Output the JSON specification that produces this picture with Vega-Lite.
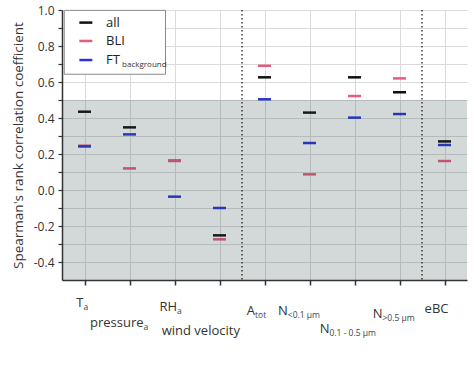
{
  "$schema": "https://vega.github.io/schema/vega-lite/v6.json",
  "width": 405,
  "height": 270,
  "autosize": "none",
  "padding": {"left": 62, "top": 10, "right": 7, "bottom": 87},
  "background": "white",
  "config": {
    "view": {"stroke": null},
    "font": "Open Sans",
    "axis": {"labelFont": "Open Sans", "titleFont": "Open Sans"},
    "axisY": {"labelOverlap": false, "labelFlush": false, "tickCount": 15}
  },
  "datasets": {
    "vals": [
      {"cat": "T_a", "idx": 1, "group": "all", "value": 0.435},
      {"cat": "T_a", "idx": 1, "group": "BLI", "value": 0.246},
      {"cat": "T_a", "idx": 1, "group": "FT", "value": 0.242},
      {"cat": "pressure_a", "idx": 2, "group": "all", "value": 0.348},
      {"cat": "pressure_a", "idx": 2, "group": "BLI", "value": 0.12},
      {"cat": "pressure_a", "idx": 2, "group": "FT", "value": 0.309},
      {"cat": "RH_a", "idx": 3, "group": "all", "value": 0.162},
      {"cat": "RH_a", "idx": 3, "group": "BLI", "value": 0.162},
      {"cat": "RH_a", "idx": 3, "group": "FT", "value": -0.037},
      {"cat": "wind velocity", "idx": 4, "group": "all", "value": -0.252},
      {"cat": "wind velocity", "idx": 4, "group": "BLI", "value": -0.274},
      {"cat": "wind velocity", "idx": 4, "group": "FT", "value": -0.1},
      {"cat": "A_tot", "idx": 5, "group": "all", "value": 0.626},
      {"cat": "A_tot", "idx": 5, "group": "BLI", "value": 0.69},
      {"cat": "A_tot", "idx": 5, "group": "FT", "value": 0.504},
      {"cat": "N<0.1", "idx": 6, "group": "all", "value": 0.43},
      {"cat": "N<0.1", "idx": 6, "group": "BLI", "value": 0.087},
      {"cat": "N<0.1", "idx": 6, "group": "FT", "value": 0.261},
      {"cat": "N0.1-0.5", "idx": 7, "group": "all", "value": 0.626},
      {"cat": "N0.1-0.5", "idx": 7, "group": "BLI", "value": 0.522},
      {"cat": "N0.1-0.5", "idx": 7, "group": "FT", "value": 0.402},
      {"cat": "N>0.5", "idx": 8, "group": "all", "value": 0.543},
      {"cat": "N>0.5", "idx": 8, "group": "BLI", "value": 0.62},
      {"cat": "N>0.5", "idx": 8, "group": "FT", "value": 0.422},
      {"cat": "eBC", "idx": 9, "group": "all", "value": 0.27},
      {"cat": "eBC", "idx": 9, "group": "BLI", "value": 0.161},
      {"cat": "eBC", "idx": 9, "group": "FT", "value": 0.25}
    ],
    "labels": [
      {"idx": 1, "main": "T", "sub": "a"},
      {"idx": 2, "main": "pressure", "sub": "a"},
      {"idx": 3, "main": "RH", "sub": "a"},
      {"idx": 4, "main": "wind velocity", "sub": ""},
      {"idx": 5, "main": "A", "sub": "tot"},
      {"idx": 6, "main": "N", "sub": "<0.1 µm"},
      {"idx": 7, "main": "N", "sub": "0.1 - 0.5 µm"},
      {"idx": 8, "main": "N", "sub": ">0.5 µm"},
      {"idx": 9, "main": "eBC", "sub": ""}
    ],
    "legend": [
      {"group": "all", "label": "all", "lx": 1.03, "tx": 1.48, "ly": 0.93},
      {"group": "BLI", "label": "BLI", "lx": 1.03, "tx": 1.48, "ly": 0.828},
      {"group": "FT", "label": "FT", "lx": 1.03, "tx": 1.48, "ly": 0.722}
    ],
    "seps": [{"sep": 4.5}, {"sep": 8.5}]
  },
  "layer": [
    {
      "data": {"name": "vals"},
      "mark": {"type": "tick", "orient": "horizontal", "size": 13, "thickness": 2.5, "opacity": 1},
      "encoding": {
        "x": {
          "field": "idx", "type": "quantitative",
          "scale": {"domain": [0.5, 9.5], "nice": false, "zero": false},
          "axis": {
            "values": [1, 2, 3, 4, 5, 6, 7, 8, 9],
            "labels": false, "title": null,
            "tickSize": 5, "tickColor": "#333", "tickWidth": 1.5,
            "domainColor": "#333", "domainWidth": 1.5,
            "grid": true, "gridColor": "#dadada", "gridWidth": 1
          }
        },
        "y": {
          "field": "value", "type": "quantitative",
          "scale": {"domain": [-0.5, 1.0], "nice": false, "zero": false},
          "axis": {
            "values": [-0.4, -0.3, -0.2, -0.1, 0, 0.1, 0.2, 0.3, 0.4, 0.5, 0.6, 0.7, 0.8, 0.9, 1.0],
            "tickCount": 15,
            "labelExpr": "abs(round(datum.value*10)) % 2 == 0 ? replace(format(datum.value, '.1f'), '\u2212', '-') : ''",
            "labelOverlap": false, "labelFlush": false,
            "labelFontSize": 12, "labelColor": "#333", "labelPadding": 4,
            "tickSize": 4, "tickColor": "#333", "tickWidth": 1.2,
            "domainColor": "#333", "domainWidth": 1.5,
            "grid": true, "gridColor": "#dadada", "gridWidth": 1,
            "title": "Spearman's rank correlation coefficient",
            "titleFontSize": 13.5, "titleFontWeight": "normal", "titleColor": "#333",
            "titlePadding": 8
          }
        },
        "color": {
          "field": "group", "type": "nominal",
          "scale": {"domain": ["all", "BLI", "FT"], "range": ["#111111", "#e85a7c", "#2a35d8"]},
          "legend": null
        }
      }
    },
    {
      "data": {"values": [{"x1": 0.55, "x2": 2.8, "y1": 0.643, "y2": 0.998}]},
      "mark": {"type": "rect", "fill": "white", "stroke": "#8a8a8a", "strokeWidth": 1},
      "encoding": {
        "x": {"field": "x1", "type": "quantitative"},
        "x2": {"field": "x2"},
        "y": {"field": "y1", "type": "quantitative"},
        "y2": {"field": "y2"}
      }
    },
    {
      "data": {"name": "legend"},
      "mark": {"type": "tick", "orient": "horizontal", "size": 13, "thickness": 2.5, "opacity": 1},
      "encoding": {
        "x": {"field": "lx", "type": "quantitative"},
        "y": {"field": "ly", "type": "quantitative"},
        "color": {"field": "group", "type": "nominal", "legend": null}
      }
    },
    {
      "data": {"name": "legend"},
      "mark": {"type": "text", "align": "left", "baseline": "middle", "fontSize": 13, "color": "#222"},
      "encoding": {
        "x": {"field": "tx", "type": "quantitative"},
        "y": {"field": "ly", "type": "quantitative"},
        "text": {"field": "label"}
      }
    },
    {
      "data": {"values": [{"tx": 1.48, "ly": 0.722, "t": "background"}]},
      "mark": {"type": "text", "align": "left", "baseline": "middle", "fontSize": 8, "dx": 16, "dy": 5, "color": "#333"},
      "encoding": {
        "x": {"field": "tx", "type": "quantitative"},
        "y": {"field": "ly", "type": "quantitative"},
        "text": {"field": "t"}
      }
    },
    {
      "data": {"values": [{"x1": 0.5, "x2": 9.5, "y1": -0.5, "y2": 0.5}]},
      "mark": {"type": "rect", "fill": "#25423a", "opacity": 0.2},
      "encoding": {
        "x": {"field": "x1", "type": "quantitative"},
        "x2": {"field": "x2"},
        "y": {"field": "y1", "type": "quantitative"},
        "y2": {"field": "y2"}
      }
    },
    {
      "data": {"name": "seps"},
      "mark": {"type": "rule", "color": "#222", "strokeWidth": 1.3, "strokeDash": [1.5, 2.5]},
      "encoding": {
        "x": {"field": "sep", "type": "quantitative"}
      }
    },
    {
      "data": {"name": "labels"},
      "mark": {
        "type": "text", "align": "right", "baseline": "middle",
        "fontSize": 13, "color": "#333",
        "dx": {"expr": "[0, -1, 14, 2.6, 20.4, -9.5, -21.7, -25, -17, 4][datum.idx]"},
        "dy": {"expr": "[0, 23, 43, 27, 51, 31, 31, 49, 34, 29][datum.idx]"}
      },
      "encoding": {
        "x": {"field": "idx", "type": "quantitative"},
        "y": {"datum": -0.5, "type": "quantitative"},
        "text": {"field": "main"}
      }
    },
    {
      "data": {"name": "labels"},
      "mark": {
        "type": "text", "align": "left", "baseline": "middle",
        "fontSize": 8.5, "color": "#444",
        "dx": {"expr": "[0, -1, 14, 2.6, 20.4, -9.5, -21.7, -25, -17, 4][datum.idx]"},
        "dy": {"expr": "[0, 27, 47, 31, 55, 35, 35, 53, 38, 33][datum.idx]"}
      },
      "encoding": {
        "x": {"field": "idx", "type": "quantitative"},
        "y": {"datum": -0.5, "type": "quantitative"},
        "text": {"field": "sub"}
      }
    }
  ]
}
